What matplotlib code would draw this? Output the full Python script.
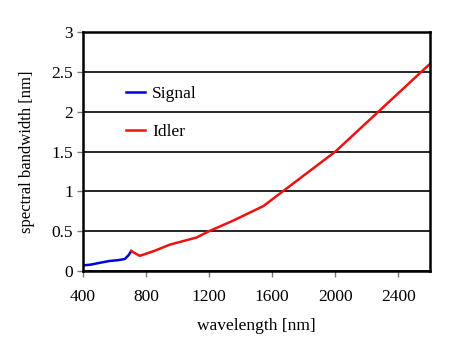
import matplotlib.pyplot as plt

plt.rcParams['font.family'] = ['Liberation Serif', 'DejaVu Serif']

signal_wl = [400, 450, 500, 566, 620, 665, 690, 706]
signal_bw = [0.07, 0.08, 0.10, 0.125, 0.135, 0.15, 0.20, 0.25]

idler_wl = [706, 760, 850, 950, 1120, 1200, 1350, 1544, 2001, 2600]
idler_bw = [0.25, 0.19, 0.25, 0.33, 0.42, 0.50, 0.63, 0.815, 1.50, 2.60]

fig = plt.figure(figsize=(4.74, 3.54), dpi=100)
ax = fig.add_axes([0.175, 0.2345, 0.732, 0.675])

ax.plot(signal_wl, signal_bw, color='#0000dd', lw=1.8, label='Signal')
ax.plot(idler_wl, idler_bw, color='#ee1111', lw=1.8, label='Idler')

ax.set_xlim(400, 2600)
ax.set_ylim(0, 3)
ax.set_xticks([400, 800, 1200, 1600, 2000, 2400])
ax.set_yticks([0, 0.5, 1, 1.5, 2, 2.5, 3])
ax.set_yticklabels(['0', '0.5', '1', '1.5', '2', '2.5', '3'])
ax.yaxis.grid(True, color='black', lw=1.2)
ax.set_axisbelow(True)
for s in ax.spines.values():
    s.set_linewidth(1.8)
ax.tick_params(labelsize=12.5, direction='out', length=4, width=1, colors='#777777', labelcolor='black')
ax.tick_params(axis='x', pad=9)
ax.tick_params(axis='y', pad=3)

ax.set_xlabel('wavelength [nm]', fontsize=12.5, labelpad=9)
ax.set_ylabel('spectral bandwidth [nm]', fontsize=12, labelpad=12)

ax.legend(loc='upper left', bbox_to_anchor=(0.08, 0.84), frameon=False, fontsize=12.5,
          handlelength=1.1, handletextpad=0.4, labelspacing=1.25)

plt.savefig('out.png', dpi=100)
